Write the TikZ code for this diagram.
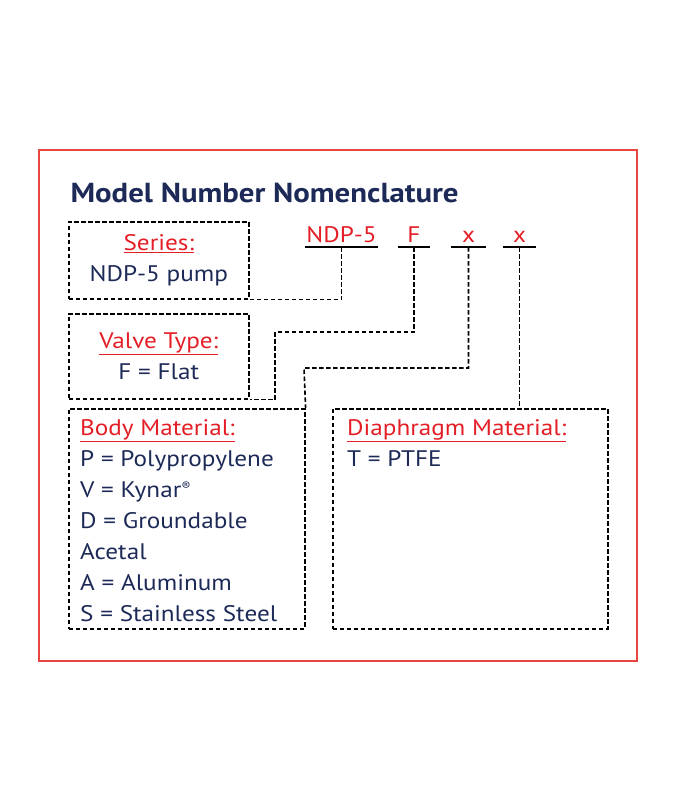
\documentclass[tikz,border=0pt]{standalone}
\usepackage{fontspec}
\setmainfont[FakeStretch=1.12]{PT Sans}
\usepackage{xcolor}
\definecolor{navy}{HTML}{1D2A57}
\definecolor{nred}{HTML}{E41E26}
\definecolor{framered}{HTML}{E8463F}
\newcommand{\head}[1]{\textcolor{nred}{\underline{#1}}}

\begin{document}
\begin{tikzpicture}[x=1pt,y=-1pt]
        \tikzset{dashline/.style = {draw=black, line width=1.6pt, dash pattern=on 4.5pt off 2.5pt},
        box/.style = {dashline, rectangle, inner sep=0pt, anchor=north west},
        codebox/.style = {text=nred, font=\fontsize{22.5}{22.5}\selectfont, inner xsep=0pt,
            inner ysep=4pt, text depth=0pt, anchor=south},
        txt/.style = {text=navy, font=\fontsize{22.5}{31}\selectfont, inner sep=0pt}}
        \useasboundingbox (0,0) rectangle (680,800);
        \draw[framered, line width=1.2pt] (39,150) rectangle (637,661);
        \node[anchor=west, text=navy, font=\fontsize{27.5}{27.5}\selectfont\bfseries] (title) at (67,193) {Model Number Nomenclature};
        % code letters with underlines
        \node[codebox, minimum width=73pt] (cNDP) at (341.5,247) {NDP-5};
        \node[codebox, minimum width=32pt] (cF) at (414,247) {F};
        \node[codebox, minimum width=35pt] (cB) at (468.5,247) {x};
        \node[codebox, minimum width=33pt] (cD) at (519.5,247) {x};
        \foreach \c in {cNDP,cF,cB,cD}
            \draw[line width=1.8pt] (\c.south west) -- (\c.south east);
        % boxes
        \node[box, minimum width=180pt, minimum height=77pt] (series) at (68,221) {};
        \node[box, minimum width=180pt, minimum height=85pt] (valve) at (68,313) {};
        \node[box, minimum width=236pt, minimum height=220pt] (body) at (68,408) {};
        \node[box, minimum width=275pt, minimum height=220pt] (diaph) at (332,408) {};
        \node[txt, align=center] at (series.center) {\head{Series:}\\NDP-5 pump};
        \node[txt, align=center] at (valve.center) {\head{Valve Type:}\\F = Flat};
        \node[txt, align=left, anchor=north west] at ([xshift=12pt,yshift=-11pt]body.north west)
            {\head{Body Material:}\\P = Polypropylene\\V = Kynar\raisebox{0.6ex}{\fontsize{12}{12}\selectfont ®}\\D = Groundable\\Acetal\\A = Aluminum\\S = Stainless Steel};
        \node[txt, align=left, anchor=north west] at ([xshift=15pt,yshift=-11pt]diaph.north west)
            {\head{Diaphragm Material:}\\T = PTFE};
        % connectors
        \coordinate (bendF) at (275,332);
        \coordinate (bendB) at (304,368);
        \draw[dashline] (cNDP.south) |- (series.south east);
        \draw[dashline] (cF.south) |- (bendF) |- (valve.south east);
        \draw[dashline] (cB.south) |- (bendB) -- (body.north east);
        \draw[dashline] (cD.south) -- (cD.south |- diaph.north);
\end{tikzpicture}
\end{document}
